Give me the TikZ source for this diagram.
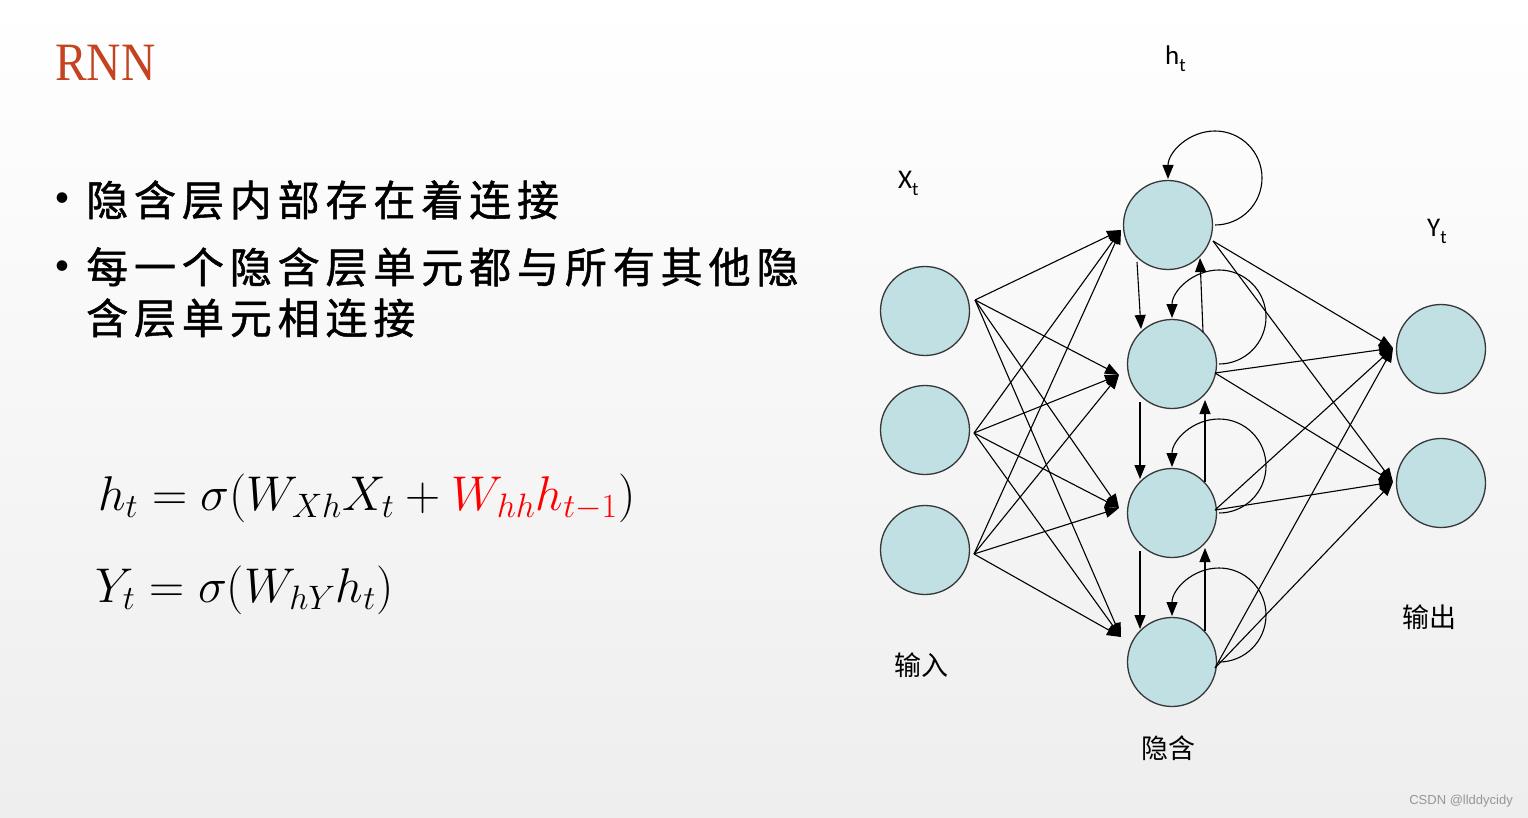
\documentclass[tikz,border=0pt]{standalone}
\usepackage{graphicx}
\usepackage{fontspec}
\newfontfamily\cjk{Noto Sans CJK SC}
\newfontfamily\cjkb[LetterSpace=14,FakeBold=1.2]{Noto Sans CJK SC}
\newfontfamily\lab{Carlito}
\newfontfamily\ttl{Liberation Serif}
\newfontfamily\wm{Liberation Sans}
\usetikzlibrary{arrows.meta,calc}
\definecolor{nodefill}{RGB}{193,224,227}
\definecolor{nodeline}{RGB}{55,55,55}
\definecolor{titlered}{RGB}{196,68,32}
\definecolor{bgbot}{RGB}{238,238,238}
\definecolor{wmgray}{RGB}{150,150,150}
\begin{document}
\begin{tikzpicture}[x=1pt,y=-1pt,
  neuron/.style={circle, draw=nodeline, line width=1.3pt, fill=nodefill, minimum size=89pt, inner sep=0pt},
  conn/.style={draw=black, line width=1.1pt, -{Triangle[length=14pt,width=11pt]}},
  lbl/.style={inner sep=0pt, anchor=base west, font=\lab\fontsize{27}{30}\selectfont},
  cjklbl/.style={inner sep=0pt, font=\cjk\fontsize{27}{30}\selectfont},
  bullettext/.style={inner sep=0pt, anchor=west, font=\cjkb\fontsize{42}{48}\selectfont},
  bulletmark/.style={inner sep=0pt, font=\lab\fontsize{30}{30}\selectfont},
  formula/.style={inner sep=0pt, anchor=base west, font=\fontsize{23}{26}\selectfont}]
\shade[top color=white, bottom color=bgbot] (0,0) rectangle (1528,818);
\useasboundingbox (0,0) rectangle (1528,818);

% title and bullets
\node[inner sep=0pt, anchor=base west, text=titlered, font=\ttl\fontsize{54}{60}\selectfont] (title) at (55,81) {\scalebox{0.88}[1]{RNN}};
\node[bulletmark] (d1) at (62,200) {•};
\node[bulletmark] (d2) at (62,268) {•};
\node[bullettext] (b1) at (86,200) {隐含层内部存在着连接};
\node[bullettext] (b2) at (86,267) {每一个隐含层单元都与所有其他隐};
\node[bullettext] (b3) at (86,318) {含层单元相连接};

% formulas
\node[formula] (eq1) at (98,510) {\scalebox{1.96}{$h_t = \sigma(W_{Xh}X_t + {\color{red}W_{hh}h_{t-1}})$}};
\node[formula] (eq2) at (95,602) {\scalebox{1.96}{$Y_t = \sigma(W_{hY}h_t)$}};

% neurons
\node[neuron] (x1) at (925,311) {};
\node[neuron] (x2) at (925,430) {};
\node[neuron] (x3) at (925,550) {};
\node[neuron] (h1) at (1168,225) {};
\node[neuron] (h2) at (1172,364) {};
\node[neuron] (h3) at (1172,513) {};
\node[neuron] (h4) at (1172,662) {};
\node[neuron] (y1) at (1441,349) {};
\node[neuron] (y2) at (1441,483) {};

% ports
\coordinate (x1o) at ($(x1)+(50,-11)$);
\coordinate (x2o) at ($(x2)+(49,3)$);
\coordinate (x3o) at ($(x3)+(49,4)$);
\coordinate (h1i) at ($(h1)+(-47,5)$);
\coordinate (h2i) at ($(h2)+(-53,11)$);
\coordinate (h3i) at ($(h3)+(-53,-5)$);
\coordinate (h4i) at ($(h4)+(-51,-25)$);
\coordinate (h1o) at ($(h1)+(45,16)$);
\coordinate (h2o) at ($(h2)+(43,9)$);
\coordinate (h3o) at ($(h3)+(43,-3)$);
\coordinate (h4o) at ($(h4)+(43,6)$);
\coordinate (y1i) at ($(y1)+(-48,-1)$);
\coordinate (y2i) at ($(y2)+(-48,-1)$);

% input -> hidden
\foreach \s in {x1o,x2o,x3o}
  \foreach \t in {h1i,h2i,h3i,h4i}
    \draw[conn] (\s) -- (\t);
% hidden -> output
\foreach \s in {h1o,h2o,h3o,h4o}
  \foreach \t in {y1i,y2i}
    \draw[conn] (\s) -- (\t);

% hidden downward (left side)
\draw[conn] ($(h1)+(-31,37)$) -- ($(h2)+(-31,-35)$);
\draw[conn] ($(h2)+(-32,38)$) -- ($(h3)+(-32,-34)$);
\draw[conn] ($(h3)+(-32,38)$) -- ($(h4)+(-32,-33)$);
% hidden upward (right side)
\draw[conn] ($(h4)+(33,-31)$) -- ($(h3)+(33,35)$);
\draw[conn] ($(h3)+(33,-31)$) -- ($(h2)+(33,36)$);
\draw[conn] ($(h2)+(31,-32)$) -- ($(h1)+(32,33)$);

% self loops
\foreach \n in {h1,h2,h3,h4}
  \draw[conn] ($(\n)+(47,0)$) .. controls ($(\n)+(73,0)$) and ($(\n)+(94,-21)$) .. ($(\n)+(94,-47)$)
     .. controls ($(\n)+(94,-73)$) and ($(\n)+(73,-94)$) .. ($(\n)+(47,-94)$)
     .. controls ($(\n)+(21,-94)$) and ($(\n)+(0,-73)$) .. ($(\n)+(0,-46)$);

% labels
\node[lbl] (xt) at (898,189) {X\raisebox{-7pt}{\fontsize{19}{19}\selectfont t}};
\node[lbl] (ht) at (1165,65) {h\raisebox{-7pt}{\fontsize{19}{19}\selectfont t}};
\node[lbl] (yt) at (1427,237) {Y\raisebox{-7pt}{\fontsize{19}{19}\selectfont t}};
\node[cjklbl] (lin) at (921,665) {输入};
\node[cjklbl] (lhid) at (1168,748) {隐含};
\node[cjklbl] (lout) at (1429,617) {输出};

% watermark
\node[inner sep=0pt, anchor=east, text=wmgray, font=\wm\fontsize{13}{13}\selectfont] (wm) at (1513,801) {CSDN @llddycidy};
\end{tikzpicture}
\end{document}
